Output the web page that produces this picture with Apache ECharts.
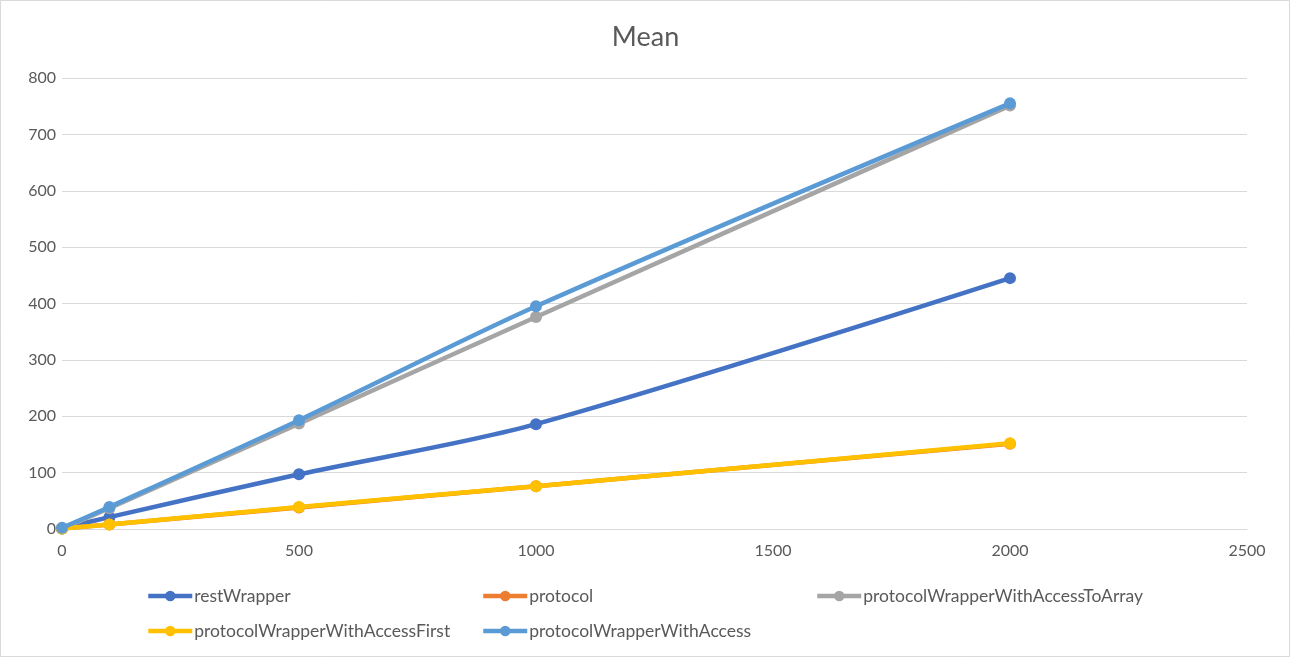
<!DOCTYPE html>
<html>
<head>
<meta charset="utf-8">
<script src="https://cdn.jsdelivr.net/npm/echarts@6/dist/echarts.min.js"></script>
<style>
html,body{margin:0;padding:0;background:#fff;}
#c{width:1291px;height:658px;}
</style>
</head>
<body>
<div id="c"></div>
<script>
var xValues = [0, 100, 500, 1000, 2000];
var restWrapper = [1, 21, 97, 186, 445];
var protocol = [1, 8, 38, 76, 151];
var protocolWrapperWithAccessToArray = [1, 37, 187, 376, 751];
var protocolWrapperWithAccessFirst = [1, 8, 39, 76, 152];
var protocolWrapperWithAccess = [2, 39, 193, 395, 755];
var seriesNames = ['restWrapper', 'protocol', 'protocolWrapperWithAccessToArray', 'protocolWrapperWithAccessFirst', 'protocolWrapperWithAccess'];
var seriesValues = [restWrapper, protocol, protocolWrapperWithAccessToArray, protocolWrapperWithAccessFirst, protocolWrapperWithAccess];
var colors = ['#4472C4', '#ED7D31', '#A5A5A5', '#FFC000', '#5B9BD5'];

var font = 'Lato, "Open Sans", sans-serif';
var chart = echarts.init(document.getElementById('c'), null, {renderer: 'canvas'});

function pairs(vals) {
  return xValues.map(function (x, i) { return [x, vals[i]]; });
}

var legendPos = [
  {left: 146, top: 587},
  {left: 481, top: 587},
  {left: 815, top: 587},
  {left: 146, top: 622},
  {left: 481, top: 622}
];

var option = {
  animation: false,
  backgroundColor: '#fff',
  color: colors,
  title: {
    text: 'Mean',
    left: 'center',
    top: 19,
    textStyle: {fontFamily: font, fontSize: 27, fontWeight: 'normal', color: '#595959'}
  },
  graphic: [{
    type: 'rect',
    shape: {x: 0.5, y: 0.5, width: 1289, height: 656},
    style: {fill: 'none', stroke: '#d9d9d9', lineWidth: 1},
    silent: true
  }],
  legend: seriesNames.map(function (n, i) {
    return {
      data: [n],
      left: legendPos[i].left,
      top: legendPos[i].top,
      itemWidth: 44,
      itemHeight: 13,
      itemGap: 4,
      padding: 0,
      itemStyle: {borderWidth: 0},
      lineStyle: {width: 4.5},
      textStyle: {fontFamily: font, fontSize: 17.5, color: '#595959', padding: [0, 0, 0, -3]}
    };
  }),
  grid: {left: 62, right: 44, top: 78, bottom: 129, containLabel: false},
  xAxis: {
    type: 'value',
    min: 0, max: 2500, interval: 500,
    axisLine: {show: true, lineStyle: {color: '#d9d9d9', width: 1}},
    axisTick: {show: false},
    splitLine: {show: false},
    axisLabel: {fontFamily: font, fontSize: 16, color: '#595959', margin: 14,
      formatter: function (v) { return String(v); }}
  },
  yAxis: {
    type: 'value',
    min: 0, max: 800, interval: 100,
    axisLine: {show: false},
    axisTick: {show: false},
    splitLine: {show: true, lineStyle: {color: '#d9d9d9', width: 1}},
    axisLabel: {fontFamily: font, fontSize: 16, color: '#595959', margin: 6}
  },
  series: seriesNames.map(function (n, i) {
    return {
      name: n,
      type: 'line',
      data: pairs(seriesValues[i]),
      smooth: 0.3,
      symbol: 'circle',
      symbolSize: 12,
      lineStyle: {width: 4.5, color: colors[i]},
      itemStyle: {color: colors[i]},
      z: 2 + i
    };
  })
};
chart.setOption(option);
</script>
</body>
</html>
